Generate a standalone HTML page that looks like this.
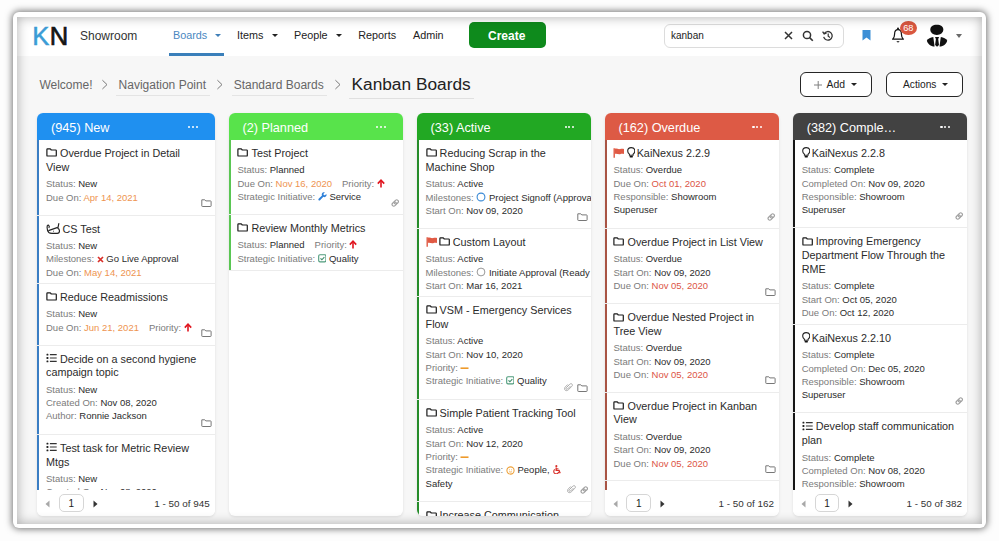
<!DOCTYPE html>
<html><head><meta charset="utf-8"><title>Kanban Boards</title>
<style>
*{box-sizing:border-box;margin:0;padding:0}
html,body{width:999px;height:541px;overflow:hidden}
body{background:#fdfdfd;font-family:"Liberation Sans",sans-serif;position:relative;color:#333}
.abs{position:absolute}
.frame{position:absolute;left:12.8px;top:11.9px;width:973.2px;height:516.1px;background:#fff;border-radius:6px;box-shadow:0 0 7px 1px rgba(0,0,0,.55)}
.inner{position:absolute;left:17px;top:16.5px;width:964.6px;height:507.5px;background:#f7f7f7}
.inset{position:absolute;left:17px;top:16.5px;width:964.6px;height:507.5px;box-shadow:inset 0 0 12px rgba(0,0,0,.32);pointer-events:none;z-index:50}
.nav{position:absolute;left:17px;top:16.5px;width:964.6px;height:39.5px;background:#fff}
.t{position:absolute;white-space:nowrap;line-height:1}
.caret{position:absolute;width:0;height:0;border-left:3.4px solid transparent;border-right:3.4px solid transparent;border-top:3.6px solid #222}
.col{position:absolute;top:113.4px;height:402.2px;background:#fff;border-radius:6px;box-shadow:0 1px 3px rgba(0,0,0,.10)}
.hd{position:relative;height:26.6px;border-radius:6px 6px 0 0;color:#fff}
.ht{position:absolute;left:13.6px;top:7.5px;font-size:12.7px;line-height:14px;white-space:nowrap}
.dots{position:absolute;right:17px;top:12.2px;width:9.6px;height:2.4px}
.dots i{position:absolute;top:0;width:2.2px;height:2.2px;background:#fff;border-radius:1px}
.dots i:nth-child(1){left:0}.dots i:nth-child(2){left:3.7px}.dots i:nth-child(3){left:7.4px}
.body{position:relative;overflow:hidden;border-radius:0 0 6px 6px}
.card{position:relative;border-left:2px solid;margin-bottom:1px;padding:7px 0 0 6.6px;background:#fff;overflow:hidden;box-shadow:0 1px 0 #ececec}
.tt{font-size:10.8px;line-height:13.8px;color:#2b2b2b;white-space:nowrap}
.ti{vertical-align:-1px;margin-right:3px}
.fs{margin-top:2.6px}
.fl{font-size:9.5px;line-height:13.35px;white-space:nowrap;color:#2b2b2b}
.lb{color:#7b7b7b}
.or{color:#ee9450}
.rd{color:#dc5546}
.fi{vertical-align:-1px}
.sp{display:inline-block;width:10px}
.bi{position:absolute;right:3px;bottom:7.2px;display:flex;align-items:flex-end}
.bi svg{margin-left:4px;display:block}
.pg{position:absolute;left:0;right:0;top:376.9px;height:25.3px;border-radius:0 0 6px 6px;background:#fff}
.pv,.nx{position:absolute;top:9.3px}
.pv{left:7.8px}
.nx{left:55.3px}
.pb{position:absolute;left:21.5px;top:4px;width:24.7px;height:17.5px;border:1px solid #d6d6d6;border-radius:5px;font-size:10px;line-height:17.5px;text-align:center;color:#222}
.pt{position:absolute;right:5px;top:8.3px;font-size:9.9px;line-height:10px;color:#333;white-space:nowrap}
</style></head><body>
<div class="frame"></div>
<div class="inner"></div>
<div class="nav"></div>

<!-- logo -->
<div class="t" style="left:32.3px;top:24.2px;font-size:25.6px;color:#3b9cd6;-webkit-text-stroke:.5px #3b9cd6">K</div><div class="t" style="left:49.8px;top:24.2px;font-size:25.6px;color:#161616;-webkit-text-stroke:.7px #161616">N</div>
<div class="t" style="left:80px;top:30px;font-size:12px;color:#333">Showroom</div>

<!-- nav -->
<div class="t" style="left:173px;top:30.3px;font-size:10.8px;color:#4a87bf">Boards</div>
<div class="caret" style="left:215px;top:33.8px;border-top-color:#3f7fb8"></div>
<div class="abs" style="left:169px;top:52.8px;width:55px;height:2.8px;background:#3a7fba"></div>
<div class="t" style="left:237px;top:30.3px;font-size:10.8px;color:#222">Items</div>
<div class="caret" style="left:271.5px;top:33.8px"></div>
<div class="t" style="left:294px;top:30.3px;font-size:10.8px;color:#222">People</div>
<div class="caret" style="left:335.5px;top:33.8px"></div>
<div class="t" style="left:358.3px;top:30.3px;font-size:10.8px;color:#222">Reports</div>
<div class="t" style="left:413px;top:30.3px;font-size:10.8px;color:#222">Admin</div>

<!-- create -->
<div class="abs" style="left:468.6px;top:22.4px;width:77px;height:25.6px;background:#0e8a1c;border-radius:5px"></div>
<div class="t" style="left:488px;top:29.5px;font-size:12px;font-weight:bold;color:#fff">Create</div>

<!-- search -->
<div class="abs" style="left:664px;top:23.6px;width:180px;height:24px;border:1px solid #dcdcdc;border-radius:6px;background:#fff"></div>
<div class="t" style="left:671px;top:31.4px;font-size:10px;color:#222">kanban</div>
<svg class="abs" style="left:784px;top:31px" width="9" height="9" viewBox="0 0 9 9"><path d="M1 1l7 7M8 1L1 8" stroke="#333" stroke-width="1.5"/></svg>
<svg class="abs" style="left:801.5px;top:30px" width="12" height="12" viewBox="0 0 12 12"><circle cx="5" cy="5" r="3.6" fill="none" stroke="#333" stroke-width="1.5"/><path d="M7.6 7.6l3.2 3.2" stroke="#333" stroke-width="1.6"/></svg>
<svg class="abs" style="left:822px;top:30px" width="12" height="12" viewBox="0 0 12 12"><path d="M2.2 3.6A4.3 4.3 0 1 1 1.7 6.8" fill="none" stroke="#333" stroke-width="1.3"/><path d="M.6 1.6l1.6 2.3 2.4-.9" fill="none" stroke="#333" stroke-width="1.3"/><path d="M6.2 3.4v2.8l1.8 1.2" fill="none" stroke="#333" stroke-width="1.2"/></svg>

<!-- bookmark -->
<svg class="abs" style="left:862px;top:30px" width="9" height="11" viewBox="0 0 9 11"><path d="M.5 0h8v10.5L4.5 7.6.5 10.5z" fill="#3d8fd6"/></svg>
<!-- bell -->
<svg class="abs" style="left:891px;top:27px" width="14" height="16" viewBox="0 0 14 16"><circle cx="7" cy="1.6" r="1" fill="#111"/><path d="M1.6 12.2c1.5-1.2 2-2.6 2-5.2 0-2.4 1.4-4.3 3.4-4.3s3.4 1.9 3.4 4.3c0 2.6.5 4 2 5.2z" fill="none" stroke="#111" stroke-width="1.2" stroke-linejoin="round"/><path d="M5.6 14.2h2.8c0 .7-.6 1.2-1.4 1.2s-1.4-.5-1.4-1.2z" fill="#111"/></svg>
<div class="abs" style="left:900px;top:20.9px;width:17px;height:14.4px;border-radius:50%;background:#d9573f"></div>
<div class="t" style="left:903.2px;top:23.8px;font-size:9.2px;color:#fff">68</div>
<!-- avatar -->
<svg class="abs" style="left:926px;top:24px" width="22" height="23" viewBox="0 0 22 23"><path d="M10.8.7C14.8.7 17.3 2.6 17.3 5.6 17.3 8.8 14.5 11 10.8 11S4.3 8.8 4.3 5.6C4.3 2.6 6.8.7 10.8.7z" fill="#111"/><path d="M.9 16.4C2 14.6 4.5 13.4 7.3 12.9L8.6 22.6C4.6 22.2 1.4 19.8.9 16.4z" fill="#111"/><path d="M21.2 16.4C20.1 14.6 17.6 13.4 14.8 12.9L13.5 22.6C17.5 22.2 20.7 19.8 21.2 16.4z" fill="#111"/><path d="M9 13h4.1l-.9 2 .8 6-1.95 1.7L9.1 21l.8-6z" fill="#111"/></svg>
<div class="caret" style="left:955.6px;top:34.2px;border-left-width:3.7px;border-right-width:3.7px;border-top:4px solid #6a6a6a"></div>

<!-- breadcrumbs -->
<div class="t" style="left:39.4px;top:79px;font-size:12px;color:#666">Welcome!</div>
<svg class="abs" style="left:101px;top:79px" width="8" height="11" viewBox="0 0 8 11"><path d="M1.4 1.2l4.6 4.4-4.6 4.4" fill="none" stroke="#7a7a7a" stroke-width="1"/></svg>
<div class="t" style="left:118.6px;top:79px;font-size:12px;color:#666">Navigation Point</div>
<div class="abs" style="left:116px;top:95px;width:93.5px;height:1px;background:#e4e4e4"></div>
<svg class="abs" style="left:216px;top:79px" width="8" height="11" viewBox="0 0 8 11"><path d="M1.4 1.2l4.6 4.4-4.6 4.4" fill="none" stroke="#7a7a7a" stroke-width="1"/></svg>
<div class="t" style="left:233.7px;top:79px;font-size:12px;color:#666">Standard Boards</div>
<div class="abs" style="left:231.7px;top:95px;width:95px;height:1px;background:#e4e4e4"></div>
<svg class="abs" style="left:333.8px;top:79px" width="8" height="11" viewBox="0 0 8 11"><path d="M1.4 1.2l4.6 4.4-4.6 4.4" fill="none" stroke="#7a7a7a" stroke-width="1"/></svg>
<div class="t" style="left:351.5px;top:76px;font-size:17.3px;color:#222">Kanban Boards</div>
<div class="abs" style="left:349px;top:98px;width:125px;height:1px;background:#e0e0e0"></div>

<!-- add / actions -->
<div class="abs" style="left:799.6px;top:72px;width:72.8px;height:24.5px;border:1.7px solid #262626;border-radius:6px;background:#fff"></div>
<svg class="abs" style="left:814px;top:80.5px" width="8.4" height="8" viewBox="0 0 8.4 8"><path d="M4.2 0v8M0 4h8.4" stroke="#808080" stroke-width="1"/></svg>
<div class="t" style="left:826.5px;top:80.4px;font-size:10.4px;color:#222">Add</div>
<div class="caret" style="left:850.8px;top:82.8px"></div>
<div class="abs" style="left:886.3px;top:72px;width:76.8px;height:24.5px;border:1.7px solid #262626;border-radius:6px;background:#fff"></div>
<div class="t" style="left:903px;top:80.4px;font-size:10.2px;color:#222">Actions</div>
<div class="caret" style="left:941.6px;top:82.8px"></div>

<div class="col" style="left:37.4px;width:177.4px"><div class="hd" style="background:#1f90f0"><span class="ht">(945) New</span><span class="dots"><i></i><i></i><i></i></span></div>
<div class="body" style="height:350.3px;border-radius:0">
<div class="card" style="height:74.7px;border-left-color:#3a7ec4"><div class="tt"><svg class="ti" width="11" height="9" viewBox="0 0 11 9" style="vertical-align:-.4px"><path d="M.9 1.5c0-.4.2-.6.6-.6h2.8l1 1.1h4.4c.4 0 .6.2.6.6v4.8c0 .4-.2.6-.6.6H1.5c-.4 0-.6-.2-.6-.6z" fill="none" stroke="#1a1a1a" stroke-width="1.2" stroke-linejoin="round"/></svg>Overdue Project in Detail<br>View</div><div class="fs"><div class="fl"><span class="lb">Status:</span> <span class="v ">New</span></div><div class="fl"><span class="lb">Due On:</span> <span class="v or">Apr 14, 2021</span></div></div><div class="bi"><svg width="11" height="8" viewBox="0 0 11 8"><path d="M.8 .8h3l1 1.1h4.7c.4 0 .6.2.6.6v4.4c0 .4-.2.6-.6.6H1.4c-.4 0-.6-.2-.6-.6z" fill="none" stroke="#777" stroke-width="1" stroke-linejoin="round"/></svg></div></div>
<div class="card" style="height:67.1px;border-left-color:#3a7ec4"><div class="tt"><svg class="ti" width="14" height="11" viewBox="0 0 14 11" style="vertical-align:-1.5px;margin-right:2.5px"><path d="M1.3 2.6C.9 5.2 1.2 8 2.8 9.5c.8.7 1.8.9 3.2.9h5.3c1.4 0 2.2-.9 2.2-2.3 0-1.3-.6-2.3-1.6-2.9L12.8.6" fill="none" stroke="#222" stroke-width="1.15" stroke-linejoin="round" stroke-linecap="round"/><path d="M1.2 2.6l1.2-.5.9 1.3-.4 1.6" fill="none" stroke="#222" stroke-width="1.1" stroke-linejoin="round"/><path d="M2.4 7.6l9.4-3.2" stroke="#222" stroke-width="1.15"/><path d="M7 8.2h1" stroke="#444" stroke-width=".9"/></svg>CS Test</div><div class="fs"><div class="fl"><span class="lb">Status:</span> <span class="v ">New</span></div><div class="fl"><span class="lb">Milestones:</span> <svg class="fi" width="7" height="7" viewBox="0 0 7 7" style="vertical-align:-.3px"><path d="M1 1l5 5M6 1L1 6" stroke="#d9302a" stroke-width="1.7"/></svg> <span class="v">Go Live Approval</span></div><div class="fl"><span class="lb">Due On:</span> <span class="v or">May 14, 2021</span></div></div></div>
<div class="card" style="height:60.8px;border-left-color:#3a7ec4"><div class="tt"><svg class="ti" width="11" height="9" viewBox="0 0 11 9" style="vertical-align:-.4px"><path d="M.9 1.5c0-.4.2-.6.6-.6h2.8l1 1.1h4.4c.4 0 .6.2.6.6v4.8c0 .4-.2.6-.6.6H1.5c-.4 0-.6-.2-.6-.6z" fill="none" stroke="#1a1a1a" stroke-width="1.2" stroke-linejoin="round"/></svg>Reduce Readmissions</div><div class="fs"><div class="fl"><span class="lb">Status:</span> <span class="v ">New</span></div><div class="fl"><span class="lb">Due On:</span> <span class="v or">Jun 21, 2021</span><span class="sp"></span><span class="lb">Priority:</span> <svg class="fi" width="8" height="9" viewBox="0 0 8 9"><path d="M4 8.6V1.6" stroke="#e0141e" stroke-width="1.6"/><path d="M.8 4.6L4 1.2l3.2 3.4" fill="none" stroke="#e0141e" stroke-width="1.6"/></svg></div></div><div class="bi"><svg width="11" height="8" viewBox="0 0 11 8"><path d="M.8 .8h3l1 1.1h4.7c.4 0 .6.2.6.6v4.4c0 .4-.2.6-.6.6H1.4c-.4 0-.6-.2-.6-.6z" fill="none" stroke="#777" stroke-width="1" stroke-linejoin="round"/></svg></div></div>
<div class="card" style="height:88.4px;border-left-color:#3a7ec4"><div class="tt"><svg class="ti" width="11" height="10" viewBox="0 0 11 10" style="vertical-align:-.5px"><rect x=".5" y=".7" width="1.9" height="1.9" rx=".5" fill="#222"/><rect x=".5" y="4.05" width="1.9" height="1.9" rx=".5" fill="#222"/><rect x=".5" y="7.4" width="1.9" height="1.9" rx=".5" fill="#222"/><path d="M3.9 1.65h6.8M3.9 5h6.8M3.9 8.35h6.8" stroke="#333" stroke-width="1.1"/></svg>Decide on a second hygiene<br>campaign topic</div><div class="fs"><div class="fl"><span class="lb">Status:</span> <span class="v ">New</span></div><div class="fl"><span class="lb">Created On:</span> <span class="v ">Nov 08, 2020</span></div><div class="fl"><span class="lb">Author:</span> <span class="v ">Ronnie Jackson</span></div></div><div class="bi"><svg width="11" height="8" viewBox="0 0 11 8"><path d="M.8 .8h3l1 1.1h4.7c.4 0 .6.2.6.6v4.4c0 .4-.2.6-.6.6H1.4c-.4 0-.6-.2-.6-.6z" fill="none" stroke="#777" stroke-width="1" stroke-linejoin="round"/></svg></div></div>
<div class="card" style="height:88.4px;border-left-color:#3a7ec4"><div class="tt"><svg class="ti" width="11" height="10" viewBox="0 0 11 10" style="vertical-align:-.5px"><rect x=".5" y=".7" width="1.9" height="1.9" rx=".5" fill="#222"/><rect x=".5" y="4.05" width="1.9" height="1.9" rx=".5" fill="#222"/><rect x=".5" y="7.4" width="1.9" height="1.9" rx=".5" fill="#222"/><path d="M3.9 1.65h6.8M3.9 5h6.8M3.9 8.35h6.8" stroke="#333" stroke-width="1.1"/></svg>Test task for Metric Review<br>Mtgs</div><div class="fs"><div class="fl"><span class="lb">Status:</span> <span class="v ">New</span></div><div class="fl"><span class="lb">Created On:</span> <span class="v ">Nov 08, 2020</span></div><div class="fl"><span class="lb">Author:</span> <span class="v ">Ronnie Jackson</span></div></div><div class="bi"><svg width="11" height="8" viewBox="0 0 11 8"><path d="M.8 .8h3l1 1.1h4.7c.4 0 .6.2.6.6v4.4c0 .4-.2.6-.6.6H1.4c-.4 0-.6-.2-.6-.6z" fill="none" stroke="#777" stroke-width="1" stroke-linejoin="round"/></svg></div></div>
</div>
<div class="pg"><svg class="pv" width="5" height="8" viewBox="0 0 5 8"><path d="M4.5 0.5v7L.5 4z" fill="#a8a8a8"/></svg><span class="pb">1</span><svg class="nx" width="5" height="8" viewBox="0 0 5 8"><path d="M.5 0.5v7L4.5 4z" fill="#333"/></svg><span class="pt">1 - 50 of 945</span></div>
</div>
<div class="col" style="left:228.9px;width:174px"><div class="hd" style="background:#58e34b"><span class="ht">(2) Planned</span><span class="dots"><i></i><i></i><i></i></span></div>
<div class="body" style="height:375.6px">
<div class="card" style="height:74.1px;border-left-color:#5ac653"><div class="tt"><svg class="ti" width="11" height="9" viewBox="0 0 11 9" style="vertical-align:-.4px"><path d="M.9 1.5c0-.4.2-.6.6-.6h2.8l1 1.1h4.4c.4 0 .6.2.6.6v4.8c0 .4-.2.6-.6.6H1.5c-.4 0-.6-.2-.6-.6z" fill="none" stroke="#1a1a1a" stroke-width="1.2" stroke-linejoin="round"/></svg>Test Project</div><div class="fs"><div class="fl"><span class="lb">Status:</span> <span class="v ">Planned</span></div><div class="fl"><span class="lb">Due On:</span> <span class="v or">Nov 16, 2020</span><span class="sp"></span><span class="lb">Priority:</span> <svg class="fi" width="8" height="9" viewBox="0 0 8 9"><path d="M4 8.6V1.6" stroke="#e0141e" stroke-width="1.6"/><path d="M.8 4.6L4 1.2l3.2 3.4" fill="none" stroke="#e0141e" stroke-width="1.6"/></svg></div><div class="fl"><span class="lb">Strategic Initiative:</span> <svg class="fi" width="9" height="9" viewBox="0 0 10 10" style="vertical-align:-1.3px"><path d="M9.2 2.2L7.7 3.6 6.3 3.4 6.1 2 7.6.6C6.4.1 5 .5 4.4 1.7c-.4.8-.3 1.6 0 2.2L.7 7.6c-.5.5-.5 1.2 0 1.6.4.5 1.1.5 1.6 0L6 5.4c.7.4 1.5.4 2.3 0 1.1-.6 1.5-2 .9-3.2z" fill="#2f80d8"/></svg> <span class="v">Service</span></div></div><div class="bi"><svg width="8.5" height="8" viewBox="0 0 8.5 8"><g fill="none" stroke="#a0a0a0" stroke-width="1.15" transform="rotate(-45 4.25 4)"><rect x=".5" y="2.3" width="4.6" height="3.4" rx="1.7"/><rect x="3.4" y="2.3" width="4.6" height="3.4" rx="1.7"/></g></svg></div></div>
<div class="card" style="height:54.5px;border-left-color:#5ac653"><div class="tt"><svg class="ti" width="11" height="9" viewBox="0 0 11 9" style="vertical-align:-.4px"><path d="M.9 1.5c0-.4.2-.6.6-.6h2.8l1 1.1h4.4c.4 0 .6.2.6.6v4.8c0 .4-.2.6-.6.6H1.5c-.4 0-.6-.2-.6-.6z" fill="none" stroke="#1a1a1a" stroke-width="1.2" stroke-linejoin="round"/></svg>Review Monthly Metrics</div><div class="fs"><div class="fl"><span class="lb">Status:</span> <span class="v ">Planned</span><span class="sp"></span><span class="lb">Priority:</span> <svg class="fi" width="8" height="9" viewBox="0 0 8 9"><path d="M4 8.6V1.6" stroke="#e0141e" stroke-width="1.6"/><path d="M.8 4.6L4 1.2l3.2 3.4" fill="none" stroke="#e0141e" stroke-width="1.6"/></svg></div><div class="fl"><span class="lb">Strategic Initiative:</span> <svg class="fi" width="8.6" height="8.6" viewBox="0 0 10 10" style="vertical-align:-.8px"><rect x=".8" y=".8" width="8.4" height="8.4" rx="1.5" fill="none" stroke="#4f9c7c" stroke-width="1.3"/><path d="M2.9 5.1l1.6 1.6 2.9-3.2" fill="none" stroke="#3f8c6c" stroke-width="1.3"/></svg> <span class="v">Quality</span></div></div></div>
</div>
</div>
<div class="col" style="left:417px;width:174.2px"><div class="hd" style="background:#22a823"><span class="ht">(33) Active</span><span class="dots"><i></i><i></i><i></i></span></div>
<div class="body" style="height:375.6px">
<div class="card" style="height:87.8px;border-left-color:#268c2a"><div class="tt"><svg class="ti" width="11" height="9" viewBox="0 0 11 9" style="vertical-align:-.4px"><path d="M.9 1.5c0-.4.2-.6.6-.6h2.8l1 1.1h4.4c.4 0 .6.2.6.6v4.8c0 .4-.2.6-.6.6H1.5c-.4 0-.6-.2-.6-.6z" fill="none" stroke="#1a1a1a" stroke-width="1.2" stroke-linejoin="round"/></svg>Reducing Scrap in the<br>Machine Shop</div><div class="fs"><div class="fl"><span class="lb">Status:</span> <span class="v ">Active</span></div><div class="fl"><span class="lb">Milestones:</span> <svg class="fi" width="10" height="10" viewBox="0 0 10 10"><circle cx="5" cy="5" r="3.9" fill="none" stroke="#3a8ad6" stroke-width="1.1"/></svg> <span class="v">Project Signoff (Approval Process)</span></div><div class="fl"><span class="lb">Start On:</span> <span class="v ">Nov 09, 2020</span></div></div><div class="bi"><svg width="11" height="8" viewBox="0 0 11 8"><path d="M.8 .8h3l1 1.1h4.7c.4 0 .6.2.6.6v4.4c0 .4-.2.6-.6.6H1.4c-.4 0-.6-.2-.6-.6z" fill="none" stroke="#777" stroke-width="1" stroke-linejoin="round"/></svg></div></div>
<div class="card" style="height:67.2px;border-left-color:#268c2a"><div class="tt"><svg class="ti" width="12" height="10" viewBox="0 0 12 10" style="margin-right:1.2px"><path d="M1.2 0.3v9.5" stroke="#e05a44" stroke-width="1.4"/><path d="M1.8 .8c2-.8 3.5.8 5.3.2 1.3-.4 2.4-.5 3.9-.1v5.2c-1.5-.4-2.6-.3-3.9.1-1.8.6-3.3-1-5.3-.2z" fill="#e05a44"/></svg><svg class="ti" width="11" height="9" viewBox="0 0 11 9" style="vertical-align:-.4px"><path d="M.9 1.5c0-.4.2-.6.6-.6h2.8l1 1.1h4.4c.4 0 .6.2.6.6v4.8c0 .4-.2.6-.6.6H1.5c-.4 0-.6-.2-.6-.6z" fill="none" stroke="#1a1a1a" stroke-width="1.2" stroke-linejoin="round"/></svg>Custom Layout</div><div class="fs"><div class="fl"><span class="lb">Status:</span> <span class="v ">Active</span></div><div class="fl"><span class="lb">Milestones:</span> <svg class="fi" width="10" height="10" viewBox="0 0 10 10"><circle cx="5" cy="5" r="3.9" fill="none" stroke="#999" stroke-width="1"/></svg> <span class="v">Initiate Approval (Ready for Review)</span></div><div class="fl"><span class="lb">Start On:</span> <span class="v ">Mar 16, 2021</span></div></div></div>
<div class="card" style="height:101.8px;border-left-color:#268c2a"><div class="tt"><svg class="ti" width="11" height="9" viewBox="0 0 11 9" style="vertical-align:-.4px"><path d="M.9 1.5c0-.4.2-.6.6-.6h2.8l1 1.1h4.4c.4 0 .6.2.6.6v4.8c0 .4-.2.6-.6.6H1.5c-.4 0-.6-.2-.6-.6z" fill="none" stroke="#1a1a1a" stroke-width="1.2" stroke-linejoin="round"/></svg>VSM - Emergency Services<br>Flow</div><div class="fs"><div class="fl"><span class="lb">Status:</span> <span class="v ">Active</span></div><div class="fl"><span class="lb">Start On:</span> <span class="v ">Nov 10, 2020</span></div><div class="fl"><span class="lb">Priority:</span> <svg class="fi" width="9" height="8" viewBox="0 0 9 8"><path d="M.5 4.2h8" stroke="#ee9a2b" stroke-width="1.6"/></svg></div><div class="fl"><span class="lb">Strategic Initiative:</span> <svg class="fi" width="8.6" height="8.6" viewBox="0 0 10 10" style="vertical-align:-.8px"><rect x=".8" y=".8" width="8.4" height="8.4" rx="1.5" fill="none" stroke="#4f9c7c" stroke-width="1.3"/><path d="M2.9 5.1l1.6 1.6 2.9-3.2" fill="none" stroke="#3f8c6c" stroke-width="1.3"/></svg> <span class="v">Quality</span></div></div><div class="bi"><svg width="9" height="9" viewBox="0 0 10 10"><path d="M7.2 3.4L3.9 6.7c-.5.5-1.1.5-1.5.1s-.4-1 .1-1.5l3.9-3.9c.8-.8 1.9-.8 2.5-.2s.6 1.7-.2 2.5L4.8 7.6c-1.1 1.1-2.7 1.2-3.6.3s-.8-2.5.3-3.6L4.2 1.6" fill="none" stroke="#aaa" stroke-width="1.1"/></svg><svg width="11" height="8" viewBox="0 0 11 8"><path d="M.8 .8h3l1 1.1h4.7c.4 0 .6.2.6.6v4.4c0 .4-.2.6-.6.6H1.4c-.4 0-.6-.2-.6-.6z" fill="none" stroke="#777" stroke-width="1" stroke-linejoin="round"/></svg></div></div>
<div class="card" style="height:101.4px;border-left-color:#268c2a"><div class="tt"><svg class="ti" width="11" height="9" viewBox="0 0 11 9" style="vertical-align:-.4px"><path d="M.9 1.5c0-.4.2-.6.6-.6h2.8l1 1.1h4.4c.4 0 .6.2.6.6v4.8c0 .4-.2.6-.6.6H1.5c-.4 0-.6-.2-.6-.6z" fill="none" stroke="#1a1a1a" stroke-width="1.2" stroke-linejoin="round"/></svg>Simple Patient Tracking Tool</div><div class="fs"><div class="fl"><span class="lb">Status:</span> <span class="v ">Active</span></div><div class="fl"><span class="lb">Start On:</span> <span class="v ">Nov 12, 2020</span></div><div class="fl"><span class="lb">Priority:</span> <svg class="fi" width="9" height="8" viewBox="0 0 9 8"><path d="M.5 4.2h8" stroke="#ee9a2b" stroke-width="1.6"/></svg></div><div class="fl"><span class="lb">Strategic Initiative:</span> <svg class="fi" width="9" height="9" viewBox="0 0 10 10" style="vertical-align:-1.5px"><circle cx="5" cy="5" r="4" fill="none" stroke="#eea23a" stroke-width="1.2"/><path d="M3.3 4.2h.9M5.8 4.2h.9" stroke="#eea23a" stroke-width=".9"/><path d="M3.3 6.1c.9.8 2.5.8 3.4 0" fill="none" stroke="#eea23a" stroke-width=".9"/></svg> <span class="v">People,</span> <svg class="fi" width="9.5" height="9.5" viewBox="0 0 10 10" style="vertical-align:-1.3px"><circle cx="4.6" cy="1.2" r="1.1" fill="#d9302a"/><path d="M4.4 2.6v3h3l1.2 3" fill="none" stroke="#d9302a" stroke-width="1.4"/><path d="M4.4 4h2.4" stroke="#d9302a" stroke-width="1.1"/><path d="M3 4.6a2.6 2.6 0 1 0 4 2.6" fill="none" stroke="#d9302a" stroke-width="1.2"/></svg></div><div class="fl"><span class="v">Safety</span></div></div><div class="bi"><svg width="9" height="9" viewBox="0 0 10 10"><path d="M7.2 3.4L3.9 6.7c-.5.5-1.1.5-1.5.1s-.4-1 .1-1.5l3.9-3.9c.8-.8 1.9-.8 2.5-.2s.6 1.7-.2 2.5L4.8 7.6c-1.1 1.1-2.7 1.2-3.6.3s-.8-2.5.3-3.6L4.2 1.6" fill="none" stroke="#aaa" stroke-width="1.1"/></svg><svg width="8.5" height="8" viewBox="0 0 8.5 8"><g fill="none" stroke="#a0a0a0" stroke-width="1.15" transform="rotate(-45 4.25 4)"><rect x=".5" y="2.3" width="4.6" height="3.4" rx="1.7"/><rect x="3.4" y="2.3" width="4.6" height="3.4" rx="1.7"/></g></svg></div></div>
<div class="card" style="height:88px;border-left-color:#268c2a"><div class="tt"><svg class="ti" width="11" height="9" viewBox="0 0 11 9" style="vertical-align:-.4px"><path d="M.9 1.5c0-.4.2-.6.6-.6h2.8l1 1.1h4.4c.4 0 .6.2.6.6v4.8c0 .4-.2.6-.6.6H1.5c-.4 0-.6-.2-.6-.6z" fill="none" stroke="#1a1a1a" stroke-width="1.2" stroke-linejoin="round"/></svg>Increase Communication</div><div class="fs"><div class="fl"><span class="lb">Status:</span> <span class="v ">Active</span></div></div></div>
</div>
</div>
<div class="col" style="left:604.9px;width:174.1px"><div class="hd" style="background:#dd5a45"><span class="ht">(162) Overdue</span><span class="dots"><i></i><i></i><i></i></span></div>
<div class="body" style="height:350.3px;border-radius:0">
<div class="card" style="height:87.8px;border-left-color:#a95444"><div class="tt"><svg class="ti" width="12" height="10" viewBox="0 0 12 10" style="margin-right:1.2px"><path d="M1.2 0.3v9.5" stroke="#e05a44" stroke-width="1.4"/><path d="M1.8 .8c2-.8 3.5.8 5.3.2 1.3-.4 2.4-.5 3.9-.1v5.2c-1.5-.4-2.6-.3-3.9.1-1.8.6-3.3-1-5.3-.2z" fill="#e05a44"/></svg><svg class="ti" width="8.5" height="11" viewBox="0 0 8.5 11" style="margin-right:1.5px"><path d="M2.4 7.1C1.2 6.2.7 5.1.7 3.9.7 1.9 2.3.6 4.25.6S7.8 1.9 7.8 3.9c0 1.2-.5 2.3-1.7 3.2v1.1H2.4z" fill="none" stroke="#222" stroke-width="1.1" stroke-linejoin="round"/><rect x="2.5" y="9" width="3.5" height="1.6" rx=".8" fill="#111"/></svg>KaiNexus 2.2.9</div><div class="fs"><div class="fl"><span class="lb">Status:</span> <span class="v ">Overdue</span></div><div class="fl"><span class="lb">Due On:</span> <span class="v rd">Oct 01, 2020</span></div><div class="fl"><span class="lb">Responsible:</span> <span class="v ">Showroom</span></div><div class="fl"><span class="v">Superuser</span></div></div><div class="bi"><svg width="8.5" height="8" viewBox="0 0 8.5 8"><g fill="none" stroke="#a0a0a0" stroke-width="1.15" transform="rotate(-45 4.25 4)"><rect x=".5" y="2.3" width="4.6" height="3.4" rx="1.7"/><rect x="3.4" y="2.3" width="4.6" height="3.4" rx="1.7"/></g></svg></div></div>
<div class="card" style="height:74.5px;border-left-color:#a95444"><div class="tt"><svg class="ti" width="11" height="9" viewBox="0 0 11 9" style="vertical-align:-.4px"><path d="M.9 1.5c0-.4.2-.6.6-.6h2.8l1 1.1h4.4c.4 0 .6.2.6.6v4.8c0 .4-.2.6-.6.6H1.5c-.4 0-.6-.2-.6-.6z" fill="none" stroke="#1a1a1a" stroke-width="1.2" stroke-linejoin="round"/></svg>Overdue Project in List View</div><div class="fs"><div class="fl"><span class="lb">Status:</span> <span class="v ">Overdue</span></div><div class="fl"><span class="lb">Start On:</span> <span class="v ">Nov 09, 2020</span></div><div class="fl"><span class="lb">Due On:</span> <span class="v rd">Nov 05, 2020</span></div></div><div class="bi"><svg width="11" height="8" viewBox="0 0 11 8"><path d="M.8 .8h3l1 1.1h4.7c.4 0 .6.2.6.6v4.4c0 .4-.2.6-.6.6H1.4c-.4 0-.6-.2-.6-.6z" fill="none" stroke="#777" stroke-width="1" stroke-linejoin="round"/></svg></div></div>
<div class="card" style="height:87.4px;border-left-color:#a95444"><div class="tt"><svg class="ti" width="11" height="9" viewBox="0 0 11 9" style="vertical-align:-.4px"><path d="M.9 1.5c0-.4.2-.6.6-.6h2.8l1 1.1h4.4c.4 0 .6.2.6.6v4.8c0 .4-.2.6-.6.6H1.5c-.4 0-.6-.2-.6-.6z" fill="none" stroke="#1a1a1a" stroke-width="1.2" stroke-linejoin="round"/></svg>Overdue Nested Project in<br>Tree View</div><div class="fs"><div class="fl"><span class="lb">Status:</span> <span class="v ">Overdue</span></div><div class="fl"><span class="lb">Start On:</span> <span class="v ">Nov 09, 2020</span></div><div class="fl"><span class="lb">Due On:</span> <span class="v rd">Nov 05, 2020</span></div></div><div class="bi"><svg width="11" height="8" viewBox="0 0 11 8"><path d="M.8 .8h3l1 1.1h4.7c.4 0 .6.2.6.6v4.4c0 .4-.2.6-.6.6H1.4c-.4 0-.6-.2-.6-.6z" fill="none" stroke="#777" stroke-width="1" stroke-linejoin="round"/></svg></div></div>
<div class="card" style="height:87.4px;border-left-color:#a95444"><div class="tt"><svg class="ti" width="11" height="9" viewBox="0 0 11 9" style="vertical-align:-.4px"><path d="M.9 1.5c0-.4.2-.6.6-.6h2.8l1 1.1h4.4c.4 0 .6.2.6.6v4.8c0 .4-.2.6-.6.6H1.5c-.4 0-.6-.2-.6-.6z" fill="none" stroke="#1a1a1a" stroke-width="1.2" stroke-linejoin="round"/></svg>Overdue Project in Kanban<br>View</div><div class="fs"><div class="fl"><span class="lb">Status:</span> <span class="v ">Overdue</span></div><div class="fl"><span class="lb">Start On:</span> <span class="v ">Nov 09, 2020</span></div><div class="fl"><span class="lb">Due On:</span> <span class="v rd">Nov 05, 2020</span></div></div><div class="bi"><svg width="11" height="8" viewBox="0 0 11 8"><path d="M.8 .8h3l1 1.1h4.7c.4 0 .6.2.6.6v4.4c0 .4-.2.6-.6.6H1.4c-.4 0-.6-.2-.6-.6z" fill="none" stroke="#777" stroke-width="1" stroke-linejoin="round"/></svg></div></div>
<div class="card" style="height:60px;border-left-color:#a95444"><div class="tt">&nbsp;</div><div class="fs"></div></div>
</div>
<div class="pg"><svg class="pv" width="5" height="8" viewBox="0 0 5 8"><path d="M4.5 0.5v7L.5 4z" fill="#a8a8a8"/></svg><span class="pb">1</span><svg class="nx" width="5" height="8" viewBox="0 0 5 8"><path d="M.5 0.5v7L4.5 4z" fill="#333"/></svg><span class="pt">1 - 50 of 162</span></div>
</div>
<div class="col" style="left:793.1px;width:173.9px"><div class="hd" style="background:#424242"><span class="ht">(382) Comple…</span><span class="dots"><i></i><i></i><i></i></span></div>
<div class="body" style="height:350.3px;border-radius:0">
<div class="card" style="height:87.2px;border-left-color:#161616"><div class="tt"><svg class="ti" width="8.5" height="11" viewBox="0 0 8.5 11" style="margin-right:1.5px"><path d="M2.4 7.1C1.2 6.2.7 5.1.7 3.9.7 1.9 2.3.6 4.25.6S7.8 1.9 7.8 3.9c0 1.2-.5 2.3-1.7 3.2v1.1H2.4z" fill="none" stroke="#222" stroke-width="1.1" stroke-linejoin="round"/><rect x="2.5" y="9" width="3.5" height="1.6" rx=".8" fill="#111"/></svg>KaiNexus 2.2.8</div><div class="fs"><div class="fl"><span class="lb">Status:</span> <span class="v ">Complete</span></div><div class="fl"><span class="lb">Completed On:</span> <span class="v ">Nov 09, 2020</span></div><div class="fl"><span class="lb">Responsible:</span> <span class="v ">Showroom</span></div><div class="fl"><span class="v">Superuser</span></div></div><div class="bi"><svg width="8.5" height="8" viewBox="0 0 8.5 8"><g fill="none" stroke="#a0a0a0" stroke-width="1.15" transform="rotate(-45 4.25 4)"><rect x=".5" y="2.3" width="4.6" height="3.4" rx="1.7"/><rect x="3.4" y="2.3" width="4.6" height="3.4" rx="1.7"/></g></svg></div></div>
<div class="card" style="height:95.6px;border-left-color:#161616"><div class="tt"><svg class="ti" width="11" height="9" viewBox="0 0 11 9" style="vertical-align:-.4px"><path d="M.9 1.5c0-.4.2-.6.6-.6h2.8l1 1.1h4.4c.4 0 .6.2.6.6v4.8c0 .4-.2.6-.6.6H1.5c-.4 0-.6-.2-.6-.6z" fill="none" stroke="#1a1a1a" stroke-width="1.2" stroke-linejoin="round"/></svg>Improving Emergency<br>Department Flow Through the<br>RME</div><div class="fs"><div class="fl"><span class="lb">Status:</span> <span class="v ">Complete</span></div><div class="fl"><span class="lb">Start On:</span> <span class="v ">Oct 05, 2020</span></div><div class="fl"><span class="lb">Due On:</span> <span class="v ">Oct 12, 2020</span></div></div></div>
<div class="card" style="height:87.6px;border-left-color:#161616"><div class="tt"><svg class="ti" width="8.5" height="11" viewBox="0 0 8.5 11" style="margin-right:1.5px"><path d="M2.4 7.1C1.2 6.2.7 5.1.7 3.9.7 1.9 2.3.6 4.25.6S7.8 1.9 7.8 3.9c0 1.2-.5 2.3-1.7 3.2v1.1H2.4z" fill="none" stroke="#222" stroke-width="1.1" stroke-linejoin="round"/><rect x="2.5" y="9" width="3.5" height="1.6" rx=".8" fill="#111"/></svg>KaiNexus 2.2.10</div><div class="fs"><div class="fl"><span class="lb">Status:</span> <span class="v ">Complete</span></div><div class="fl"><span class="lb">Completed On:</span> <span class="v ">Dec 05, 2020</span></div><div class="fl"><span class="lb">Responsible:</span> <span class="v ">Showroom</span></div><div class="fl"><span class="v">Superuser</span></div></div><div class="bi"><svg width="8.5" height="8" viewBox="0 0 8.5 8"><g fill="none" stroke="#a0a0a0" stroke-width="1.15" transform="rotate(-45 4.25 4)"><rect x=".5" y="2.3" width="4.6" height="3.4" rx="1.7"/><rect x="3.4" y="2.3" width="4.6" height="3.4" rx="1.7"/></g></svg></div></div>
<div class="card" style="height:101.8px;border-left-color:#161616"><div class="tt"><svg class="ti" width="11" height="10" viewBox="0 0 11 10" style="vertical-align:-.5px"><rect x=".5" y=".7" width="1.9" height="1.9" rx=".5" fill="#222"/><rect x=".5" y="4.05" width="1.9" height="1.9" rx=".5" fill="#222"/><rect x=".5" y="7.4" width="1.9" height="1.9" rx=".5" fill="#222"/><path d="M3.9 1.65h6.8M3.9 5h6.8M3.9 8.35h6.8" stroke="#333" stroke-width="1.1"/></svg>Develop staff communication<br>plan</div><div class="fs"><div class="fl"><span class="lb">Status:</span> <span class="v ">Complete</span></div><div class="fl"><span class="lb">Completed On:</span> <span class="v ">Nov 08, 2020</span></div><div class="fl"><span class="lb">Responsible:</span> <span class="v ">Showroom</span></div><div class="fl"><span class="v">Superuser</span></div></div><div class="bi"><svg width="8.5" height="8" viewBox="0 0 8.5 8"><g fill="none" stroke="#a0a0a0" stroke-width="1.15" transform="rotate(-45 4.25 4)"><rect x=".5" y="2.3" width="4.6" height="3.4" rx="1.7"/><rect x="3.4" y="2.3" width="4.6" height="3.4" rx="1.7"/></g></svg></div></div>
</div>
<div class="pg"><svg class="pv" width="5" height="8" viewBox="0 0 5 8"><path d="M4.5 0.5v7L.5 4z" fill="#a8a8a8"/></svg><span class="pb">1</span><svg class="nx" width="5" height="8" viewBox="0 0 5 8"><path d="M.5 0.5v7L4.5 4z" fill="#333"/></svg><span class="pt">1 - 50 of 382</span></div>
</div>

<div class="inset"></div>
</body></html>
